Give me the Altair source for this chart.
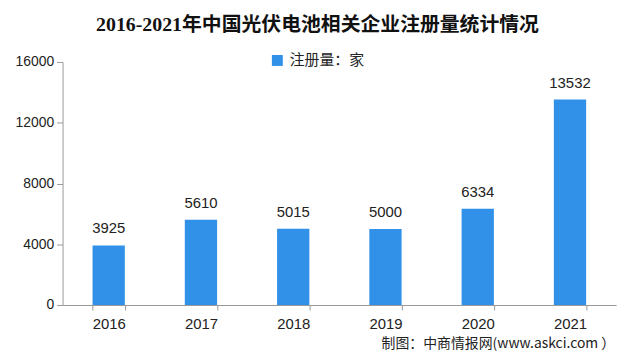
import altair as alt
import pandas as pd

years = ["2016", "2017", "2018", "2019", "2020", "2021"]
counts = [3925, 5610, 5015, 5000, 6334, 13532]
series_name = "注册量：家"
title_text = "2016-2021年中国光伏电池相关企业注册量统计情况"
footer_text = "制图：中商情报网(www.askci.com ）"
y_ticks = [0, 4000, 8000, 12000, 16000]

df = pd.DataFrame({"year": years, "count": counts, "series": [series_name] * len(years)})
foot = pd.DataFrame({"t": [footer_text]})
ttl = pd.DataFrame({"t": [title_text]})

BLUE = "#3191E9"
W, H = 558, 245

x = alt.X("year:N", title=None, sort=years,
          scale=alt.Scale(paddingInner=0.65, paddingOuter=0.325),
          axis=alt.Axis(labelAngle=0, labelFontSize=15, labelColor="#222",
                        labelFont="Liberation Sans", labelPadding=7,
                        domainColor="#999", tickColor="#999", tickSize=5,
                        tickBand="extent"))

bars = alt.Chart(df).mark_bar(color=BLUE).encode(
    x=x,
    y=alt.Y("count:Q", title=None,
            scale=alt.Scale(domain=[0, 16000], nice=False),
            axis=alt.Axis(values=y_ticks, format="d", grid=False, labelFontSize=14,
                          labelColor="#222", labelFont="Liberation Sans",
                          domainColor="#999", tickColor="#999", tickSize=6,
                          labelPadding=3)),
    color=alt.Color("series:N", scale=alt.Scale(range=[BLUE]),
                    legend=alt.Legend(title=None, orient="none", legendX=209,
                                      legendY=-9, symbolType="square",
                                      symbolSize=121, symbolStrokeWidth=0,
                                      labelFontSize=15, labelColor="#222",
                                      labelFont="Noto Sans CJK SC",
                                      labelOffset=5, padding=0)),
)

labels = alt.Chart(df).mark_text(baseline="bottom", dy=-9, fontSize=15,
                                 font="Liberation Sans", color="#222").encode(
    x=alt.X("year:N", sort=years), y="count:Q", text="count:Q")

footer = alt.Chart(foot).mark_text(align="right", baseline="middle", fontSize=14,
                                    font="Noto Sans CJK SC", color="#222").encode(
    x=alt.value(557), y=alt.value(284), text="t:N")

title = alt.Chart(ttl).mark_text(align="center", baseline="middle", fontSize=20,
                                  font="Liberation Serif, Noto Sans CJK SC",
                                  fontWeight="bold", color="#111").encode(
    x=alt.value(257), y=alt.value(-37), text="t:N")

chart = alt.layer(bars, labels, footer, title).properties(
    width=W, height=H,
    autosize=alt.AutoSizeParams(type="none"),
    padding={"left": 55, "top": 53, "right": 16, "bottom": 48},
    background="white",
).configure_view(stroke=None)

chart.save("out.html", embed_options={"renderer": "svg", "actions": False})
